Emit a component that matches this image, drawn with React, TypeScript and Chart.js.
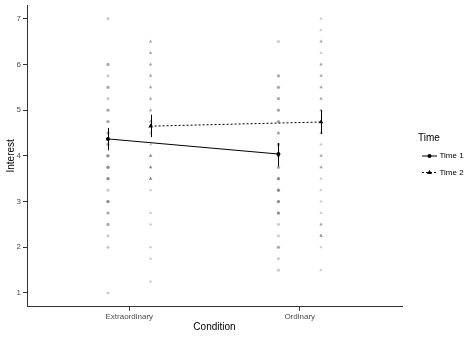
import React, { useEffect, useRef } from "react";
import { Chart, registerables } from "chart.js";

Chart.register(...registerables);

// Conditions on the x axis and the two measurement times
const conditions = ["Extraordinary", "Ordinary"];
const timeLabels = ["Time 1", "Time 2"];
const yTicks = [1, 2, 3, 4, 5, 6, 7];

// Group means and error-bar limits, one entry per condition
const meanTime1 = [4.37, 4.04];
const meanTime2 = [4.65, 4.74];
const lowerTime1 = [4.12, 3.77];
const upperTime1 = [4.61, 4.28];
const lowerTime2 = [4.41, 4.48];
const upperTime2 = [4.9, 5.0];

// Individual responses (repeated values overlap and look darker)
const extraTime1 = [
  7, 6, 6, 5.75, 5.5, 5.5, 5.25, 5, 5, 4.75, 4.75, 4.5, 4.5, 4.25, 4.25,
  4, 4, 4, 3.75, 3.75, 3.75, 3.5, 3.5, 3.5, 3.25, 3, 3, 3, 2.75, 2.75,
  2.5, 2.5, 2.25, 2, 1,
];
const extraTime2 = [
  6.5, 6.5, 6.25, 6.25, 6, 6, 5.75, 5.75, 5.5, 5.5, 5.25, 5.25, 5, 5,
  4.75, 4.75, 4.5, 4.25, 4, 4, 4, 3.75, 3.75, 3.75, 3.5, 3.5, 3.5, 3.25,
  2.75, 2.5, 2, 1.75, 1.25,
];
const ordTime1 = [
  6.5, 5.75, 5.75, 5.5, 5.5, 5.25, 5.25, 5, 5, 4.75, 4.75, 4.5, 4.5,
  4.25, 4.25, 4, 4, 3.75, 3.75, 3.5, 3.5, 3.5, 3.25, 3.25, 3.25, 3, 3, 3,
  2.75, 2.75, 2.75, 2.5, 2.25, 2, 2, 1.75, 1.5,
];
const ordTime2 = [
  7, 6.75, 6.5, 6.5, 6.25, 6, 6, 5.75, 5.75, 5.5, 5.5, 5.25, 5.25, 5, 5,
  4.75, 4.75, 4.5, 4.5, 4.25, 4, 4, 3.75, 3.75, 3.5, 3.25, 3, 2.75, 2.5,
  2.5, 2.25, 2.25, 2.25, 2, 1.5,
];

const DODGE = 0.125;
const FONT = '"Liberation Sans", Arial, sans-serif';
const RAW_COLOR = "rgba(60,60,60,0.25)";

const xPos = (i: number, t: number) => i + 1 + (t === 0 ? -DODGE : DODGE);
const rawPoints = (vals: number[], i: number, t: number) =>
  vals.map((v) => ({ x: xPos(i, t), y: v }));
const meanPoints = (means: number[], t: number) =>
  means.map((v, i) => ({ x: xPos(i, t), y: v }));

const errorBars = {
  id: "errorBars",
  afterDatasetsDraw(chart: any) {
    const { ctx, scales } = chart;
    const groups = [
      { lo: lowerTime1, hi: upperTime1, t: 0 },
      { lo: lowerTime2, hi: upperTime2, t: 1 },
    ];
    ctx.save();
    ctx.strokeStyle = "#000";
    ctx.lineWidth = 1;
    groups.forEach((g) => {
      g.lo.forEach((lo, i) => {
        const x = Math.round(scales.x.getPixelForValue(xPos(i, g.t))) + 0.5;
        ctx.beginPath();
        ctx.moveTo(x, scales.y.getPixelForValue(lo));
        ctx.lineTo(x, scales.y.getPixelForValue(g.hi[i]));
        ctx.stroke();
      });
    });
    ctx.restore();
  },
};

const timeLegend = {
  id: "timeLegend",
  afterDraw(chart: any) {
    const { ctx } = chart;
    const x0 = 418;
    ctx.save();
    ctx.fillStyle = "#000";
    ctx.textBaseline = "middle";
    ctx.textAlign = "left";
    ctx.font = `10px ${FONT}`;
    ctx.fillText("Time", x0, 138.5);
    const rows = [
      { y: 156, dash: [] as number[], style: "circle" },
      { y: 172.5, dash: [2, 2], style: "triangle" },
    ];
    rows.forEach((r, k) => {
      ctx.strokeStyle = "#000";
      ctx.lineWidth = 1;
      ctx.setLineDash(r.dash);
      ctx.beginPath();
      ctx.moveTo(422, r.y);
      ctx.lineTo(437, r.y);
      ctx.stroke();
      ctx.setLineDash([]);
      ctx.beginPath();
      if (r.style === "circle") {
        ctx.arc(429.5, r.y, 2, 0, Math.PI * 2);
      } else {
        ctx.moveTo(429.5, r.y - 2.6);
        ctx.lineTo(432, r.y + 1.6);
        ctx.lineTo(427, r.y + 1.6);
        ctx.closePath();
      }
      ctx.fill();
      ctx.font = `8px ${FONT}`;
      ctx.fillStyle = "#000";
      ctx.fillText(timeLabels[k], 439.5, r.y);
    });
    ctx.restore();
  },
};

export default function App() {
  const canvasRef = useRef<HTMLCanvasElement>(null);

  useEffect(() => {
    document.body.style.margin = "0";
    const canvas = canvasRef.current;
    if (!canvas) return;

    const rawSet = (vals: number[], i: number, t: number) => ({
      type: "scatter" as const,
      data: rawPoints(vals, i, t),
      showLine: false,
      pointStyle: t === 0 ? "circle" : "triangle",
      pointRadius: t === 0 ? 1.6 : 2,
      pointBackgroundColor: RAW_COLOR,
      pointBorderWidth: 0,
      borderColor: "transparent",
      order: 2,
    });

    const chart = new Chart(canvas, {
      type: "scatter",
      data: {
        datasets: [
          {
            label: timeLabels[0],
            data: meanPoints(meanTime1, 0),
            showLine: true,
            borderColor: "#000",
            borderWidth: 1,
            pointStyle: "circle",
            pointRadius: 2,
            pointBackgroundColor: "#000",
            pointBorderWidth: 0,
            order: 0,
          },
          {
            label: timeLabels[1],
            data: meanPoints(meanTime2, 1),
            showLine: true,
            borderColor: "#000",
            borderWidth: 1,
            borderDash: [2, 2],
            pointStyle: "triangle",
            pointRadius: 2.6,
            pointBackgroundColor: "#000",
            pointBorderWidth: 0,
            order: 0,
          },
          rawSet(extraTime1, 0, 0),
          rawSet(extraTime2, 0, 1),
          rawSet(ordTime1, 1, 0),
          rawSet(ordTime2, 1, 1),
        ] as any,
      },
      options: {
        responsive: false,
        animation: false,
        layout: { padding: { top: 5, right: 72, left: 0, bottom: 0 } },
        plugins: {
          legend: { display: false },
          tooltip: { enabled: false },
        },
        scales: {
          x: {
            type: "linear",
            min: 0.4,
            max: 2.6,
            afterBuildTicks: (scale: any) => {
              scale.ticks = conditions.map((_, i) => ({ value: i + 1 }));
            },
            afterFit: (scale: any) => {
              scale.height = 31.3;
              scale.paddingLeft = 0;
              scale.paddingRight = 0;
            },
            ticks: {
              callback: (v: any) => conditions[Math.round(Number(v)) - 1] ?? "",
              color: "#4D4D4D",
              font: { family: FONT, size: 8 },
              padding: 1,
              maxRotation: 0,
              autoSkip: false,
            },
            grid: {
              display: true,
              drawOnChartArea: false,
              drawTicks: true,
              tickLength: 4,
              color: "#333",
            },
            border: { display: true, color: "#333", width: 1 },
            title: {
              display: true,
              text: "Condition",
              color: "#000",
              font: { family: FONT, size: 10 },
              padding: { top: 0, bottom: 4.7 },
            },
          },
          y: {
            type: "linear",
            min: 0.7,
            max: 7.3,
            afterBuildTicks: (scale: any) => {
              scale.ticks = yTicks.map((v) => ({ value: v }));
            },
            afterFit: (scale: any) => {
              scale.width = 27;
              scale.paddingTop = 0;
              scale.paddingBottom = 0;
            },
            ticks: {
              color: "#4D4D4D",
              font: { family: FONT, size: 8 },
              padding: 2,
            },
            grid: {
              display: true,
              drawOnChartArea: false,
              drawTicks: true,
              tickLength: 4,
              color: "#333",
            },
            border: { display: true, color: "#333", width: 1 },
            title: {
              display: true,
              text: "Interest",
              color: "#000",
              font: { family: FONT, size: 10 },
              padding: { top: 5.7, bottom: 0 },
            },
          },
        },
      },
      plugins: [errorBars, timeLegend],
    });

    return () => chart.destroy();
  }, []);

  return (
    <div style={{ width: 474, height: 338, background: "#fff" }}>
      <canvas ref={canvasRef} width={474} height={338} style={{ display: "block" }} />
    </div>
  );
}
